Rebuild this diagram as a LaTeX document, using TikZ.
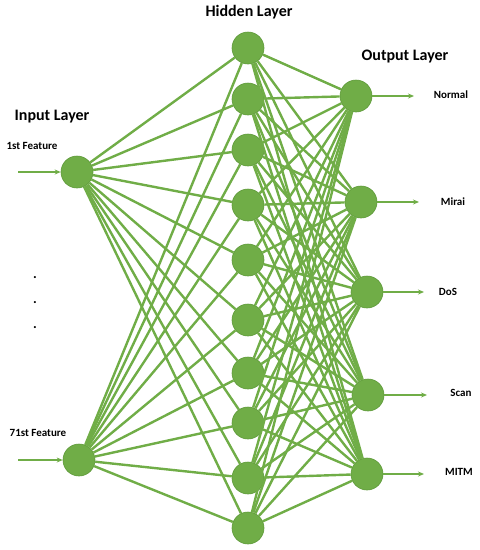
\documentclass[tikz,border=0pt]{standalone}
\usepackage{fontspec}
\setmainfont{Carlito}
\usetikzlibrary{arrows.meta}
\definecolor{grn}{HTML}{70AD47}
\definecolor{grnd}{HTML}{5E9A3A}
\tikzset{
  neuron/.style={circle,fill=grn,draw=grnd,line width=0.6pt,minimum size=32pt,inner sep=0pt},
  link/.style={draw=grn,line width=2.4pt},
  io/.style={draw=grn,line width=2pt,-{Stealth[length=6pt,width=5pt]}},
  head/.style={font=\bfseries\fontsize{16}{18}\selectfont},
  lab/.style={font=\bfseries\fontsize{11}{13}\selectfont}
}
\begin{document}
\begin{tikzpicture}[x=1pt,y=-1pt]
\useasboundingbox (0,0) rectangle (480,550);
% input
\node[neuron] (i1) at (77,172) {};
\node[neuron] (i2) at (79,460) {};
% hidden
\foreach \k/\y in {1/48,2/99,3/150,4/205,5/260,6/320,7/373,8/423,9/478,10/528}
  \node[neuron] (h\k) at (248,\y) {};
% output
\node[neuron] (o1) at (356,96) {};
\node[neuron] (o2) at (361,202) {};
\node[neuron] (o3) at (367,292) {};
\node[neuron] (o4) at (368,395) {};
\node[neuron] (o5) at (367,474) {};
% links
\foreach \k in {1,...,10}{
  \draw[link] (i1) -- (h\k);
  \draw[link] (i2) -- (h\k);
  \foreach \m in {1,...,5}
    \draw[link] (h\k) -- (o\m);
}
% input arrows
\coordinate (a1) at (18,172);
\coordinate (a2) at (18,460);
\draw[io] (a1) -- (i1);
\draw[io] (a2) -- (i2);
% output arrows
\coordinate (b1) at (414,96);
\coordinate (b2) at (419,202);
\coordinate (b3) at (424,292);
\coordinate (b4) at (427,395);
\coordinate (b5) at (424,474);
\foreach \m in {1,...,5} \draw[io] (o\m) -- (b\m);
% texts
\node[head] (th) at (249,12) {Hidden Layer};
\node[head] (to) at (405,57) {Output Layer};
\node[head] (ti) at (52,117) {Input Layer};
\node[lab] (f1) at (32,146) {1st Feature};
\node[lab] (f2) at (38,433) {71st Feature};
\node[lab] (l1) at (451,95) {Normal};
\node[lab] (l2) at (453,202) {Mirai};
\node[lab] (l3) at (448,292) {DoS};
\node[lab] (l4) at (461,393) {Scan};
\node[lab] (l5) at (459,472) {MITM};
% dots
\foreach \y/\n in {278/d1,303/d2,328/d3}
  \node[font=\bfseries\fontsize{14}{16}\selectfont] (\n) at (35,\y) {.};
\end{tikzpicture}
\end{document}
